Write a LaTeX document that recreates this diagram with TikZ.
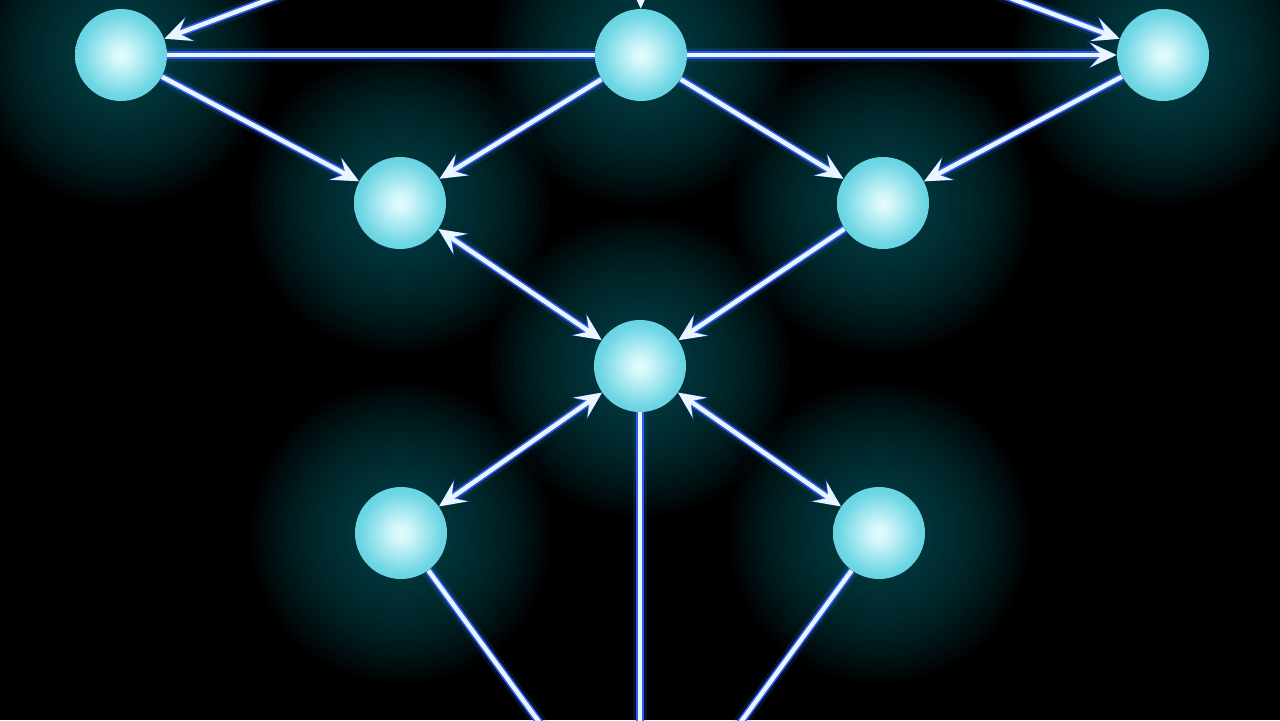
\documentclass[tikz,border=0pt]{standalone}
\usetikzlibrary{arrows.meta}
\definecolor{halocol}{RGB}{0,95,104}
\definecolor{linecore}{RGB}{235,245,255}
\definecolor{lineglow}{RGB}{50,100,255}
\definecolor{sphcen}{RGB}{228,252,254}
\definecolor{sphmid}{RGB}{110,214,228}
\definecolor{sphedge}{RGB}{72,194,212}
\pgfdeclareradialshading{spheresh}{\pgfpoint{0bp}{0bp}}{color(0bp)=(sphcen); color(5bp)=(sphcen!85!sphmid); color(22bp)=(sphmid); color(50bp)=(sphedge)}
\pgfdeclarelayer{halo}
\pgfdeclarelayer{edges}
\pgfsetlayers{halo,edges,main}
\newcommand\glowedge[3]{%
  \draw[glowwide,#1] (#2) -- (#3);
  \draw[glowmid,#1] (#2) -- (#3);
  \draw[glowcore,#1] (#2) -- (#3);}
\tikzset{
  sph/.style={circle, inner sep=0pt, minimum size=46pt, shading=spheresh},
  halostep/.style={fill=halocol, opacity=0.05},
  glowwide/.style={draw=lineglow, line width=7pt, opacity=0.16, line cap=round,
    >={Stealth[length=15pt,width=15pt,inset=6.5pt]}},
  glowmid/.style={draw=lineglow, line width=3.8pt, opacity=0.9,
    >={Stealth[length=13.5pt,width=12.5pt,inset=5.5pt]}},
  glowcore/.style={draw=linecore, line width=2.2pt,
    >={Stealth[length=13pt,width=12pt,inset=5.5pt]}},
}
\begin{document}
\begin{tikzpicture}[x=0.5pt,y=-0.5pt]
\useasboundingbox (0,0) rectangle (1280,720);
\begin{pgfonlayer}{halo}
  \fill[black] (0,0) rectangle (1280,720);
\end{pgfonlayer}
% spheres
\node[sph] (A) at (121,55) {};
\node[sph] (B) at (641,55) {};
\node[sph] (C) at (1163,55) {};
\node[sph] (D) at (400,203) {};
\node[sph] (E) at (883,203) {};
\node[sph] (F) at (640,366) {};
\node[sph] (G) at (401,533) {};
\node[sph] (H) at (879,533) {};
% off-picture ends
\coordinate (T) at (640,-140);
\coordinate (U) at (640,860);
\begin{pgfonlayer}{halo}
  \foreach \n in {A,B,C,D,E,F,G,H}
    \foreach \r in {24,27,...,75}
      \fill[halostep] (\n) circle (\r pt);
\end{pgfonlayer}
\begin{pgfonlayer}{edges}
  \glowedge{->}{T}{A}
  \glowedge{->}{T}{B}
  \glowedge{->}{T}{C}
  \glowedge{->}{A}{C}
  \glowedge{->}{A}{D}
  \glowedge{->}{B}{D}
  \glowedge{->}{B}{E}
  \glowedge{->}{C}{E}
  \glowedge{<->}{D}{F}
  \glowedge{->}{E}{F}
  \glowedge{<->}{F}{G}
  \glowedge{<->}{F}{H}
  \glowedge{-}{F}{U}
  \glowedge{-}{G}{U}
  \glowedge{-}{H}{U}
\end{pgfonlayer}
\end{tikzpicture}
\end{document}
